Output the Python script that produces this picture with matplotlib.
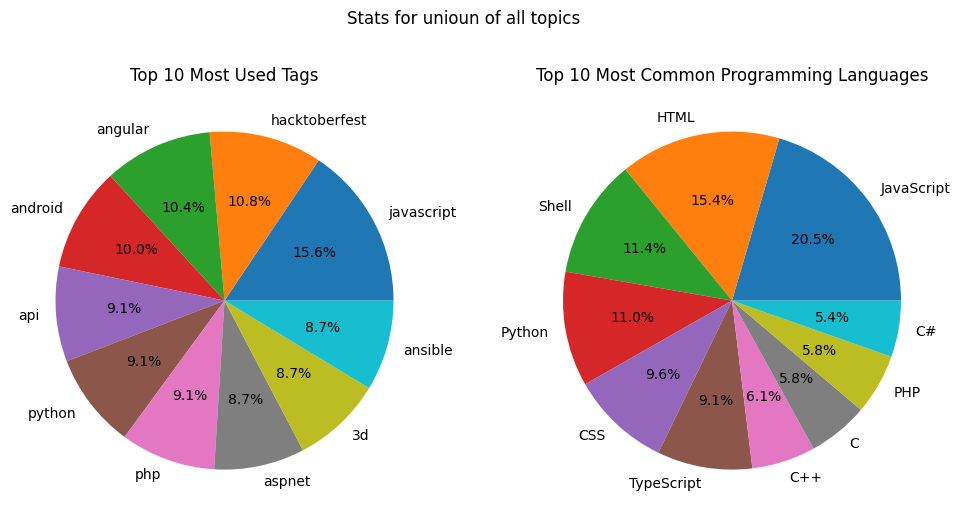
import matplotlib
matplotlib.use("Agg")
import matplotlib.pyplot as plt

tags = ['javascript', 'hacktoberfest', 'angular', 'android', 'api', 'python', 'php', 'aspnet', '3d', 'ansible']
tag_counts = [36, 25, 24, 23, 21, 21, 21, 20, 20, 20]

languages = ['JavaScript', 'HTML', 'Shell', 'Python', 'CSS', 'TypeScript', 'C++', 'C', 'PHP', 'C#']
language_shares = [20.5, 15.4, 11.4, 11.0, 9.6, 9.1, 6.1, 5.8, 5.8, 5.4]

fig, (ax1, ax2) = plt.subplots(1, 2, figsize=(9.6, 5.22), dpi=100)
fig.suptitle('Stats for unioun of all topics', x=0.483, y=0.981)

ax1.pie(tag_counts, labels=tags, autopct='%1.1f%%')
ax1.set_title('Top 10 Most Used Tags')

ax2.pie(language_shares, labels=languages, autopct='%1.1f%%')
ax2.set_title('Top 10 Most Common Programming Languages')

# pie radius about 169 px, centres
for ax, cx in ((ax1, 224.5), (ax2, 732)):
    w = 169 * 2 * 1.25
    ax.set_position([(cx - w / 2) / 960, (522 - 300.6 - w / 2) / 522, w / 960, w / 522])

plt.savefig('out.png', dpi=100)
